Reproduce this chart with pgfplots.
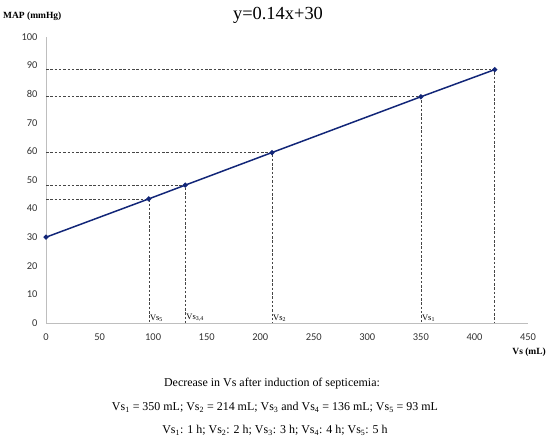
\documentclass[border=0pt]{standalone}
\usepackage{pgfplots}
\pgfplotsset{compat=1.18}
\usepackage{fontspec}
\setmainfont{Liberation Serif}
\newfontfamily\carlito{Carlito}

\definecolor{linenavy}{RGB}{18,38,120}
\definecolor{axisgrey}{RGB}{190,190,190}
\definecolor{guidegrey}{RGB}{70,70,70}

\begin{document}
\begin{tikzpicture}[x=1bp,y=1bp]
  % fixed frame, same size as the reference
  \path (0,0) rectangle (550,442);

  \begin{axis}[
      at={(46bp,119bp)}, anchor=south west,
      scale only axis, width=482bp, height=286bp,
      xmin=0, xmax=450, ymin=0, ymax=100,
      axis lines*=left,
      axis line style={axisgrey, line width=0.9pt},
      xtick={0,50,...,450}, ytick={0,10,...,100},
      major tick length=0pt,
      /pgf/number format/assume math mode=true,
      ticklabel style={font=\carlito\fontsize{10.5}{12}\selectfont, text=black!80},
      xticklabel style={yshift=-7bp},
      yticklabel style={xshift=-5bp},
      clip=false,
      guide/.style={guidegrey, line width=0.65pt, dash pattern=on 2.5bp off 1.8bp},
    ]

    % guide lines: from the y axis to each point and down to the x axis
    \addplot[guide] coordinates {(0,43.4) (96,43.4) (96,0)};
    \addplot[guide] coordinates {(0,48.2) (130,48.2) (130,0)};
    \addplot[guide] coordinates {(0,59.6) (211,59.6) (211,0)};
    \addplot[guide] coordinates {(0,79.1) (350,79.1) (350,0)};
    \addplot[guide] coordinates {(0,88.6) (419,88.6) (419,0)};

    % MAP vs Vs
    \addplot[linenavy, line width=1.5pt, mark=*, mark size=1.7pt] coordinates {
      (0,30)
      (96,43.4)
      (130,48.2)
      (211,59.6)
      (350,79.1)
      (419,88.6)
    };

    \node[anchor=south west, inner sep=1bp, font=\fontsize{8.5}{9}\selectfont] at (axis cs:96,0) {Vs\textsubscript{5}};
    \node[anchor=south west, inner sep=1bp, font=\fontsize{8.5}{9}\selectfont] at (axis cs:130,0) {Vs\textsubscript{3,4}};
    \node[anchor=south west, inner sep=1bp, font=\fontsize{8.5}{9}\selectfont] at (axis cs:211,0) {Vs\textsubscript{2}};
    \node[anchor=south west, inner sep=1bp, font=\fontsize{8.5}{9}\selectfont] at (axis cs:350,0) {Vs\textsubscript{1}};
  \end{axis}

  \node[font=\fontsize{18.5}{20}\selectfont] at (278,427) {y=0.14x+30};
  \node[anchor=west, inner sep=0pt, font=\bfseries\fontsize{9.5}{11}\selectfont] at (3,426) {MAP (mmHg)};
  \node[anchor=east, inner sep=0pt, font=\bfseries\fontsize{9.5}{11}\selectfont] at (546,90) {Vs (mL)};

  \node[font=\fontsize{12}{13}\selectfont] at (272,58) {Decrease in Vs after induction of septicemia:};
  \node[font=\fontsize{12}{13}\selectfont] at (275,35) {Vs\textsubscript{1} = 350 mL; Vs\textsubscript{2} = 214 mL; Vs\textsubscript{3} and Vs\textsubscript{4} = 136 mL; Vs\textsubscript{5} = 93 mL};
  \node[font=\fontsize{12}{13}\selectfont] at (275,12) {Vs\textsubscript{1}: 1 h; Vs\textsubscript{2}: 2 h; Vs\textsubscript{3}: 3 h; Vs\textsubscript{4}: 4 h; Vs\textsubscript{5}: 5 h};
\end{tikzpicture}
\end{document}
